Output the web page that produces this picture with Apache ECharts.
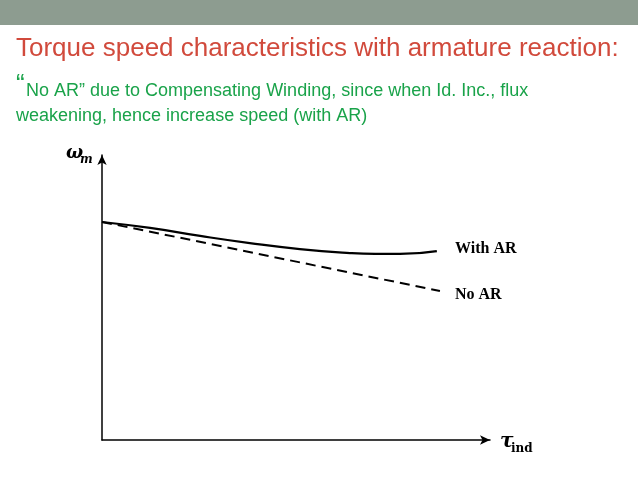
<!DOCTYPE html>
<html><head><meta charset="utf-8">
<script src="https://cdn.jsdelivr.net/npm/echarts@6/dist/echarts.min.js"></script>
<style>html,body{margin:0;padding:0;background:#fff}#c{width:638px;height:478px}</style>
</head><body><div id="c"></div>
<script>
// 数据（0-100 相对坐标）
const withAR = [[0,76.5],[12.4,74.4],[25.3,71.6],[38.1,69.1],[51,67],[63.9,65.6],[70.4,65.3],[76.8,65.3],[86.3,66.3]]
const noAR = [[0,76.5],[20,71],[40,65.4],[60,59.8],[87.1,52.3]]
const seriesNames = ['With AR', 'No AR']

const chart = echarts.init(document.getElementById('c'))
chart.setOption({
	animation: false,
	grid: { left: 102, right: 148, top: 155, bottom: 38 },
	xAxis: {
		type: 'value', min: 0, max: 100,
		axisLine: { lineStyle: { color: '#000', width: 1.5 }, symbol: ['none', 'arrow'], symbolSize: [7, 10] },
		axisTick: { show: false }, axisLabel: { show: false }, splitLine: { show: false },
	},
	yAxis: {
		type: 'value', min: 0, max: 100,
		axisLine: { show: true, lineStyle: { color: '#000', width: 1.5 }, symbol: ['none', 'arrow'], symbolSize: [7, 10] },
		axisTick: { show: false }, axisLabel: { show: false }, splitLine: { show: false },
	},
	series: [
		{ name: seriesNames[0], type: 'line', data: withAR, smooth: true, showSymbol: false,
			lineStyle: { color: '#000', width: 2.2 } },
		{ name: seriesNames[1], type: 'line', data: noAR, showSymbol: false,
			lineStyle: { color: '#000', width: 2, type: [10, 6] } },
	],
	graphic: [
		{ type: 'rect', left: 0, top: 0, shape: { width: 638, height: 25 }, style: { fill: '#8d9c90' } },
		{ type: 'text', left: 16, top: 36, style: { text: 'Torque speed characteristics with armature reaction:', fill: '#d14a3c', font: '26px "Liberation Sans", Arial, sans-serif' } },
		{ type: 'text', left: 16, top: 72, style: { text: '“', fill: '#1aa34a', font: '26px "Liberation Sans", sans-serif' } },
		{ type: 'text', left: 26, top: 82, style: { text: 'No AR” due to Compensating Winding, since when Id. Inc., flux', fill: '#1aa34a', font: '18px "Liberation Sans", Arial, sans-serif' } },
		{ type: 'text', left: 16, top: 107, style: { text: 'weakening, hence increase speed (with AR)', fill: '#1aa34a', font: '18px "Liberation Sans", Arial, sans-serif' } },
		{ type: 'text', left: 66, top: 144, style: { text: 'ω', fill: '#000', font: 'italic bold 18px "DejaVu Serif", serif' } },
		{ type: 'text', left: 80, top: 154, style: { text: 'm', fill: '#000', font: 'italic bold 12px "DejaVu Serif", serif' } },
		{ type: 'text', left: 500, top: 432, style: { text: 'τ', fill: '#000', font: 'italic bold 20px "DejaVu Serif", serif' } },
		{ type: 'text', left: 511, top: 443, style: { text: 'ind', fill: '#000', font: 'bold 12px "DejaVu Serif", serif' } },
		{ type: 'text', left: 455, top: 241, style: { text: seriesNames[0], fill: '#000', font: 'bold 16px "Liberation Serif", serif' } },
		{ type: 'text', left: 455, top: 287, style: { text: seriesNames[1], fill: '#000', font: 'bold 16px "Liberation Serif", serif' } },
	],
})
</script></body></html>
